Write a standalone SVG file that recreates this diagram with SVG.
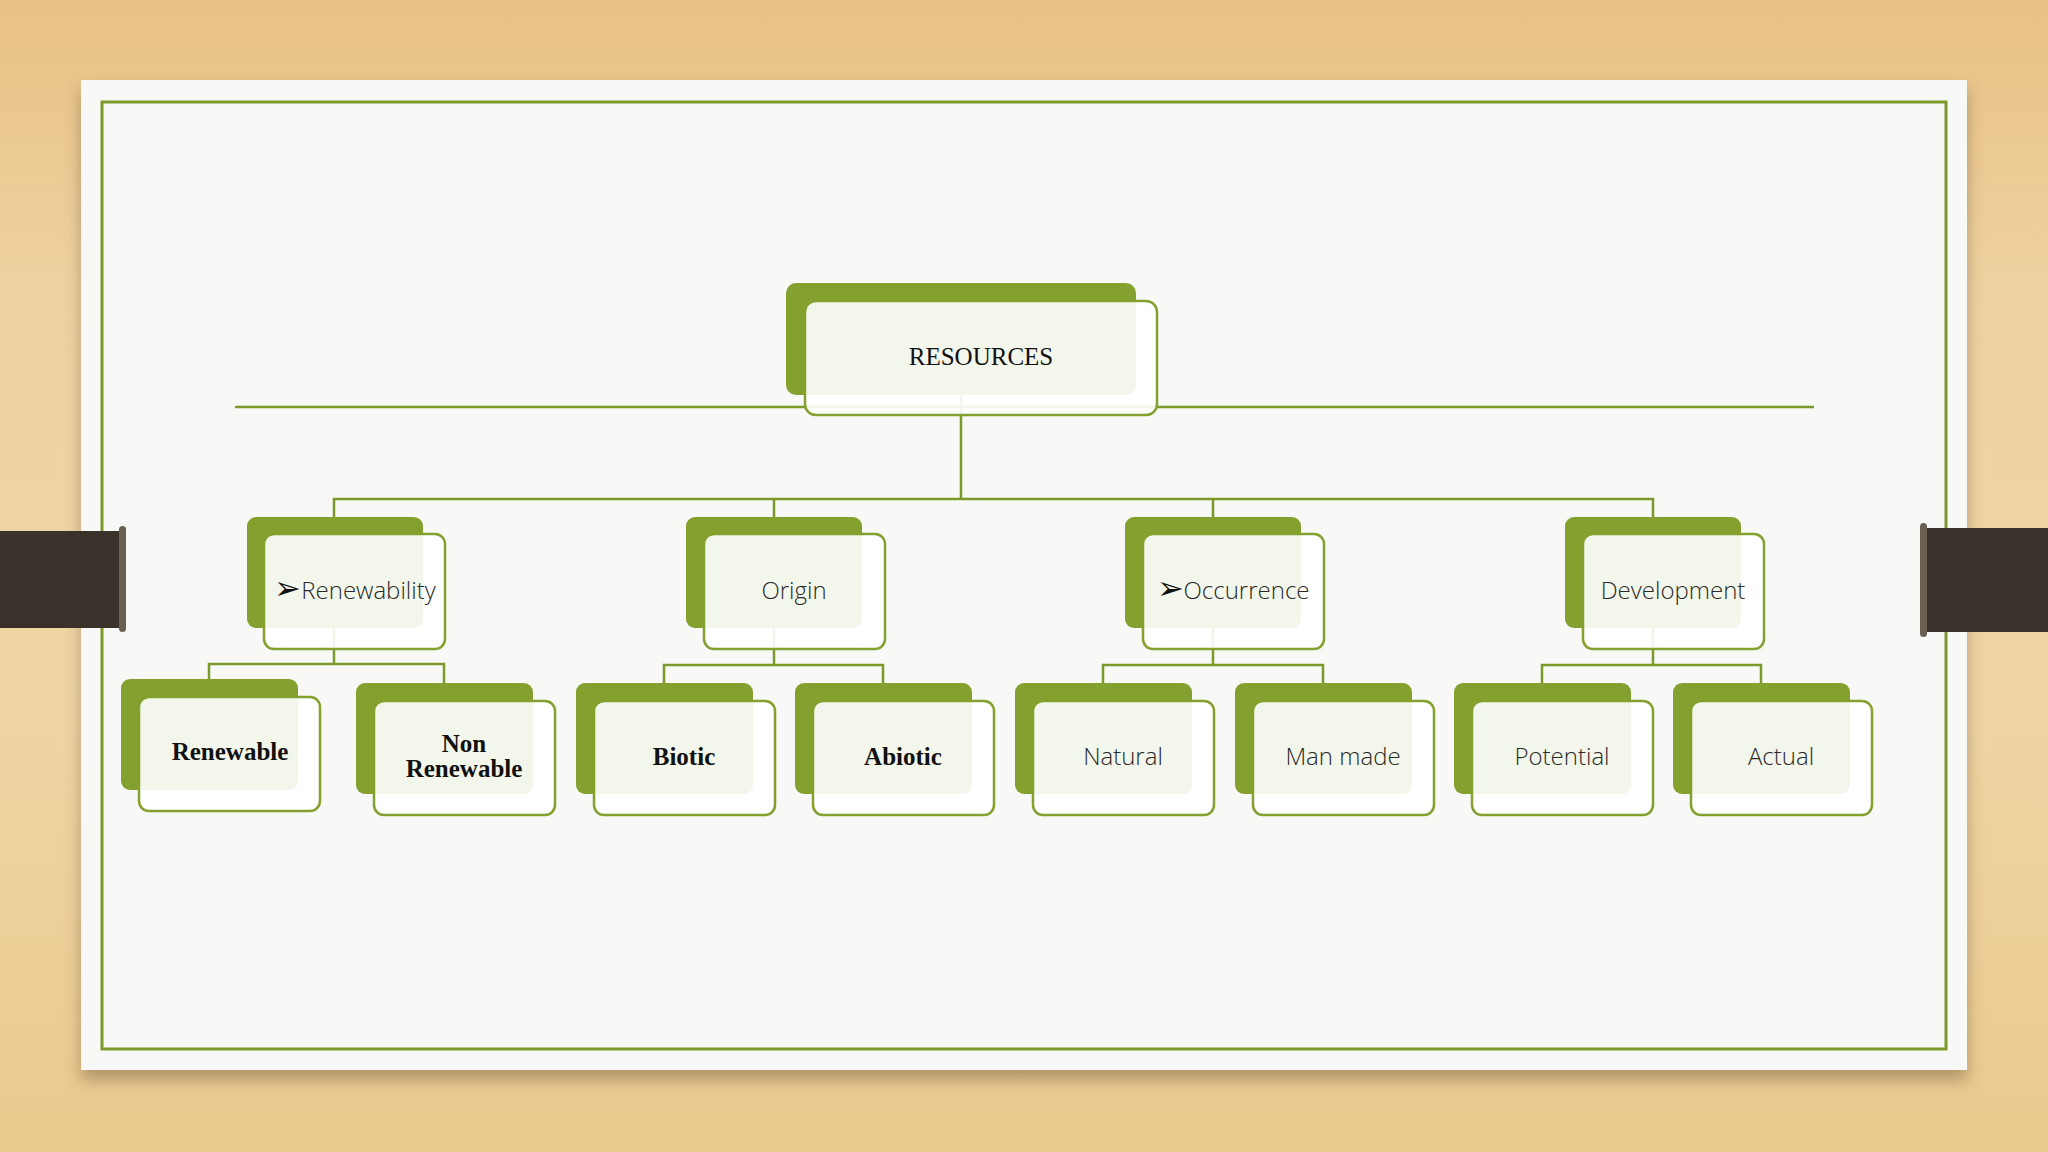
<svg xmlns="http://www.w3.org/2000/svg" width="2048" height="1152" viewBox="0 0 2048 1152">
<defs>
<linearGradient id="wood" x1="0" y1="0" x2="0" y2="1">
<stop offset="0" stop-color="#e8c185"/>
<stop offset="0.25" stop-color="#efd2a0"/>
<stop offset="0.6" stop-color="#f0d5a4"/>
<stop offset="1" stop-color="#eac98e"/>
</linearGradient>
<filter id="sh" x="-5%" y="-5%" width="110%" height="115%">
<feDropShadow dx="0" dy="10" stdDeviation="8" flood-color="#6b5430" flood-opacity="0.45"/>
</filter>
<style>
.back{fill:#84a02e}
.front{fill:#ffffff;fill-opacity:0.9;stroke:#84a02e;stroke-width:2.5}
.con{fill:none;stroke:#7b9a2a;stroke-width:2.5}
.serif{font-family:"Liberation Serif","Times New Roman",serif;fill:#111}
.sans{font-family:"Open Sans","DejaVu Sans",sans-serif;fill:#2a2a2a;font-size:24px;font-weight:300}
.arr{font-family:"DejaVu Sans",sans-serif;font-size:32px;fill:#111}
.bold{font-family:"Liberation Serif","Times New Roman",serif;font-weight:bold;font-size:25px;fill:#111}
.band{fill:#3b312b}
</style>
</defs>
<rect x="0" y="0" width="2048" height="1152" fill="url(#wood)"/>
<rect x="81" y="80" width="1886" height="990" fill="#f8f8f7" filter="url(#sh)"/>
<rect x="102" y="102" width="1844" height="947" fill="none" stroke="#7b9a2a" stroke-width="3"/>

<g id="connectors">
<line class="con" x1="235" y1="407" x2="1814" y2="407"/>
<line class="con" x1="961" y1="395" x2="961" y2="499"/>
<polyline class="con" points="334,517 334,499 1653,499 1653,517"/>
<line class="con" x1="774" y1="499" x2="774" y2="517"/>
<line class="con" x1="1213" y1="499" x2="1213" y2="517"/>
<polyline class="con" points="209,679 209,664 444,664 444,683"/>
<line class="con" x1="334" y1="628" x2="334" y2="664"/>
<polyline class="con" points="664,683 664,665 883,665 883,683"/>
<line class="con" x1="774" y1="628" x2="774" y2="665"/>
<polyline class="con" points="1103,683 1103,665 1323,665 1323,683"/>
<line class="con" x1="1213" y1="628" x2="1213" y2="665"/>
<polyline class="con" points="1542,683 1542,665 1761,665 1761,683"/>
<line class="con" x1="1653" y1="628" x2="1653" y2="665"/>
</g>

<g id="resources">
<rect class="back" x="786" y="283" width="350" height="112" rx="10"/>
<rect class="front" x="805" y="301" width="352" height="114" rx="11"/>
<text class="serif" x="981" y="365" font-size="25" text-anchor="middle">RESOURCES</text>
</g>

<g id="renewability">
<rect class="back" x="247" y="517" width="176" height="111" rx="9"/>
<rect class="front" x="264" y="534" width="181" height="115" rx="10"/>
<text class="sans" x="355" y="599" text-anchor="middle"><tspan class="arr">➢</tspan>Renewability</text>
</g>
<g id="origin">
<rect class="back" x="686" y="517" width="176" height="111" rx="9"/>
<rect class="front" x="704" y="534" width="181" height="115" rx="10"/>
<text class="sans" x="794" y="599" text-anchor="middle">Origin</text>
</g>
<g id="occurrence">
<rect class="back" x="1125" y="517" width="176" height="111" rx="9"/>
<rect class="front" x="1143" y="534" width="181" height="115" rx="10"/>
<text class="sans" x="1233" y="599" text-anchor="middle"><tspan class="arr">➢</tspan>Occurrence</text>
</g>
<g id="development">
<rect class="back" x="1565" y="517" width="176" height="111" rx="9"/>
<rect class="front" x="1583" y="534" width="181" height="115" rx="10"/>
<text class="sans" x="1673" y="599" text-anchor="middle">Development</text>
</g>

<g id="renewable">
<rect class="back" x="121" y="679" width="177" height="111" rx="9"/>
<rect class="front" x="139" y="697" width="181" height="114" rx="10"/>
<text class="bold" x="230" y="760" text-anchor="middle">Renewable</text>
</g>
<g id="nonrenewable">
<rect class="back" x="356" y="683" width="177" height="111" rx="9"/>
<rect class="front" x="374" y="701" width="181" height="114" rx="10"/>
<text class="bold" x="464" y="752" text-anchor="middle">Non</text>
<text class="bold" x="464" y="777" text-anchor="middle">Renewable</text>
</g>
<g id="biotic">
<rect class="back" x="576" y="683" width="177" height="111" rx="9"/>
<rect class="front" x="594" y="701" width="181" height="114" rx="10"/>
<text class="bold" x="684" y="765" text-anchor="middle">Biotic</text>
</g>
<g id="abiotic">
<rect class="back" x="795" y="683" width="177" height="111" rx="9"/>
<rect class="front" x="813" y="701" width="181" height="114" rx="10"/>
<text class="bold" x="903" y="765" text-anchor="middle">Abiotic</text>
</g>
<g id="natural">
<rect class="back" x="1015" y="683" width="177" height="111" rx="9"/>
<rect class="front" x="1033" y="701" width="181" height="114" rx="10"/>
<text class="sans" x="1123" y="765" text-anchor="middle">Natural</text>
</g>
<g id="manmade">
<rect class="back" x="1235" y="683" width="177" height="111" rx="9"/>
<rect class="front" x="1253" y="701" width="181" height="114" rx="10"/>
<text class="sans" x="1343" y="765" text-anchor="middle">Man made</text>
</g>
<g id="potential">
<rect class="back" x="1454" y="683" width="177" height="111" rx="9"/>
<rect class="front" x="1472" y="701" width="181" height="114" rx="10"/>
<text class="sans" x="1562" y="765" text-anchor="middle">Potential</text>
</g>
<g id="actual">
<rect class="back" x="1673" y="683" width="177" height="111" rx="9"/>
<rect class="front" x="1691" y="701" width="181" height="114" rx="10"/>
<text class="sans" x="1781" y="765" text-anchor="middle">Actual</text>
</g>

<rect class="band" x="0" y="531" width="124" height="97"/>
<rect x="119" y="526" width="7" height="106" rx="3.5" fill="#6a6052"/>
<rect class="band" x="1924" y="528" width="124" height="104"/>
<rect x="1920" y="523" width="7" height="114" rx="3.5" fill="#6a6052"/>
</svg>
